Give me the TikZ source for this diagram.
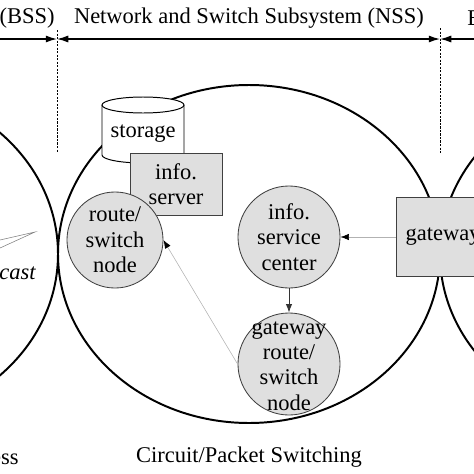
\documentclass[tikz,border=0pt]{standalone}
\usepackage{fontspec}
\setmainfont{Liberation Serif}
\usetikzlibrary{arrows.meta}

\tikzset{
  subsys/.style={line width=1.4pt},
  span/.style={line width=0.9pt},
  boundary/.style={line width=0.5pt, dash pattern=on 1.5pt off 1pt},
  nodecirc/.style={circle, draw=black!75, fill=gray!25, line width=0.6pt, align=center, inner sep=0pt},
  infobox/.style={rectangle, draw=black!75, fill=gray!25, line width=0.6pt, align=center},
  thinlink/.style={draw=gray!60, line width=0.4pt, -{Latex[length=6pt,width=4.5pt,color=black]}},
  darklink/.style={draw=black!80, line width=0.6pt, -{Latex[length=6pt,width=4.5pt]}},
}

\begin{document}
\begin{tikzpicture}[x=0.025cm, y=-0.025cm, font=\fontsize{16}{18}\selectfont]
  \useasboundingbox (0,0) rectangle (474,474);
  \clip (0,0) rectangle (474,474);

  % subsystems
  \draw[subsys] (-133,254) ellipse [x radius=191, y radius=169];
  \draw[subsys] (249,254) ellipse [x radius=191, y radius=169];
  \draw[subsys] (631,254) ellipse [x radius=191, y radius=169];

  % headings
  \node[anchor=east, inner sep=0pt] (bss) at (55,18) {(BSS)};
  \node (nss) at (249,18) {Network and Switch Subsystem (NSS)};
  \node[anchor=west, inner sep=0pt] (ext) at (467,18) {E};
  \node[anchor=east, inner sep=0pt] (acc) at (19,457) {Access};
  \node (cps) at (249,457) {Circuit/Packet Switching};

  % span arrows
  \coordinate (lft) at (0,39);
  \coordinate (bssnss) at (57,39);
  \coordinate (nssext) at (440,39);
  \coordinate (rgt) at (474,39);
  \draw[span, -{Latex[length=8pt,width=5pt]}] (lft) -- (bssnss);
  \draw[span, {Latex[length=8pt,width=5pt]}-{Latex[length=8pt,width=5pt]}] (bssnss) -- (nssext);
  \draw[span, -{Latex[length=8pt,width=5pt]}] (rgt) -- (nssext);
  \draw[boundary] (57,30) -- (57,153);
  \draw[boundary] (440,28) -- (440,153);

  % broadcast side
  \draw[gray, line width=0.4pt] (0,240) -- (35,232) -- (0,248);
  \node[anchor=east, inner sep=0pt] (bcast) at (36,272) {\itshape Broadcast};

  % storage
  \draw[fill=white, line width=0.7pt] (102,105) -- (102,155) arc[start angle=180, end angle=0, x radius=41, y radius=8] -- (184,105);
  \draw[fill=white, line width=0.7pt] (143,105) ellipse [x radius=41, y radius=8];
  \node (storage) at (143,134) {storage};

  % nodes
  \node[infobox, minimum width=2.3cm, minimum height=1.55cm] (infoserver) at (176,184) {info.\\server};
  \node[nodecirc, minimum size=2.4cm] (routenode) at (115,240) {route/\\switch\\node};
  \node[nodecirc, minimum size=2.55cm] (infocenter) at (289,237) {info.\\service\\center};
  \node[nodecirc, minimum size=2.55cm] (gwnode) at (289,364) {};
  \node[align=center, inner sep=0pt] (gwtext) at (289,366) {gateway\\route/\\switch\\node};
  \node[infobox, minimum width=2.35cm, minimum height=1.975cm] (gateway) at (443,237) {gateway};

  % links
  \draw[thinlink] (gateway) -- (infocenter);
  \draw[darklink] (infocenter) -- (gwnode);
  \draw[thinlink] (gwnode.west) -- (routenode.east);
\end{tikzpicture}
\end{document}
